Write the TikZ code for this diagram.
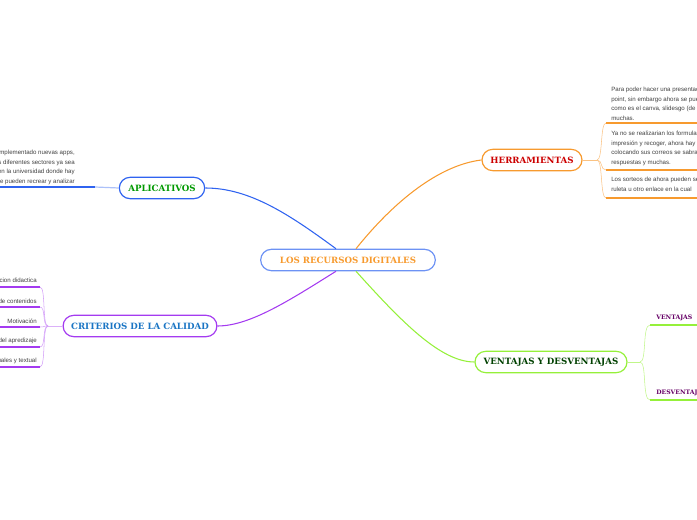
\documentclass[tikz,border=0pt]{standalone}
\usepackage{fontspec}
\setmainfont{Liberation Sans}
\newfontfamily\hfont{DejaVu Serif}
\begin{document}
\begin{tikzpicture}[x=0.75pt,y=-0.75pt,
  topic/.style={draw,rounded corners=8pt,line width=0.9pt,minimum height=16pt,inner xsep=6pt,font=\hfont\bfseries\fontsize{6.5}{7}\selectfont},
  body/.style={font=\fontsize{4.6}{7.2}\selectfont,text=black!75,align=left,inner sep=0pt},
  sub/.style={font=\hfont\bfseries\fontsize{4.6}{6}\selectfont,inner sep=0pt}]
\useasboundingbox (0,0) rectangle (697,520);
\clip (0,0) rectangle (697,520);
\definecolor{cor}{HTML}{F79A2E}\definecolor{cbl}{HTML}{2F63F0}\definecolor{cpu}{HTML}{A43BF0}\definecolor{cgr}{HTML}{95F03A}
\node[topic,draw=cbl!70,text=cor,minimum width=131pt] (c) at (348,260) {LOS RECURSOS DIGITALES};
\node[topic,draw=cor,text=red!80!black,minimum width=75pt] (h) at (532,160) {HERRAMIENTAS};
\node[topic,draw=cbl,text=green!60!black,minimum width=64pt] (a) at (162,188) {APLICATIVOS};
\node[topic,draw=cpu,text=cbl!70!cyan!80!black,minimum width=109pt] (k) at (140,326) {CRITERIOS DE LA CALIDAD};
\node[topic,draw=cgr,text=green!25!black,minimum width=114pt] (v) at (551,362) {VENTAJAS Y DESVENTAJAS};
\draw[cor,line width=0.8pt] (c.north) ++(8,0) coordinate(c1) (c1) .. controls (395,200) and (440,165) .. (h.west);
\draw[cbl,line width=0.8pt] (c.north) ++(-12,0) coordinate(c2) (c2) .. controls (290,215) and (250,188) .. (a.east);
\draw[cpu,line width=0.8pt] (c.south) ++(-12,0) coordinate(c3) (c3) .. controls (290,300) and (250,326) .. (k.east);
\draw[cgr,line width=0.8pt] (c.south) ++(8,0) coordinate(c4) (c4) .. controls (400,320) and (440,362) .. (v.west);
% herramientas
\coordinate (hb) at (597,160);
\draw[cor!60] (h.east) -- (hb);
\foreach \y in {123,170,198} \draw[cor!60] (hb) .. controls (603,160) and (600,\y) .. (606,\y);
\foreach \y in {123,170,198} \draw[cor,line width=0.9pt] (606,\y) -- (697,\y);
\node[body,anchor=north west] (h1) at (611,87) {Para poder hacer una presentacion ya no se usa power\\point, sin embargo ahora se pueden usar otras\\como es el canva, slidesgo (de plantillas) y\\muchas.};
\node[body,anchor=north west] (h2) at (611,131) {Ya no se realizarian los formularios en\\impresión y recoger, ahora hay formularios\\colocando sus correos se sabran las\\respuestas y muchas.};
\node[body,anchor=north west] (h3) at (611,177) {Los sorteos de ahora pueden ser con una\\ruleta u otro enlace en la cual};
% aplicativos
\draw[cbl!40,line width=0.9pt] (a.west) -- (95,187);
\draw[cbl,line width=0.9pt] (95,187) -- (0,187);
\node[body,anchor=south east,align=right] (a1) at (75,185) {se han implementado nuevas apps,\\en los diferentes sectores ya sea\\en la universidad donde hay\\se pueden recrear y analizar};
% criterios
\coordinate (kb) at (48,326);
\draw[cpu!40] (k.west) -- (kb);
\foreach \y/\t in {287/Organizacion didactica,307/Calidad de contenidos,327/Motivación,347/Adecuación del apredizaje,367/Recursos audiovisuales y textual}{
  \draw[cpu!50] (kb) .. controls (42,326) and (46,\y) .. (40,\y);
  \draw[cpu,line width=0.9pt] (40,\y) -- (0,\y);
  \node[body,anchor=south east] at (37,{\y-3}) {\t};}
% ventajas
\coordinate (vb) at (640,362);
\draw[cgr!60] (v.east) -- (vb);
\foreach \y in {325,400} {\draw[cgr!60] (vb) .. controls (647,362) and (642,\y) .. (650,\y);
  \draw[cgr,line width=0.9pt] (650,\y) -- (697,\y);}
\node[sub,anchor=south west,text=violet!80!black] (v1) at (656,321) {VENTAJAS};
\node[sub,anchor=south west,text=violet!80!black] (v2) at (656,396) {DESVENTAJAS};
\end{tikzpicture}
\end{document}
